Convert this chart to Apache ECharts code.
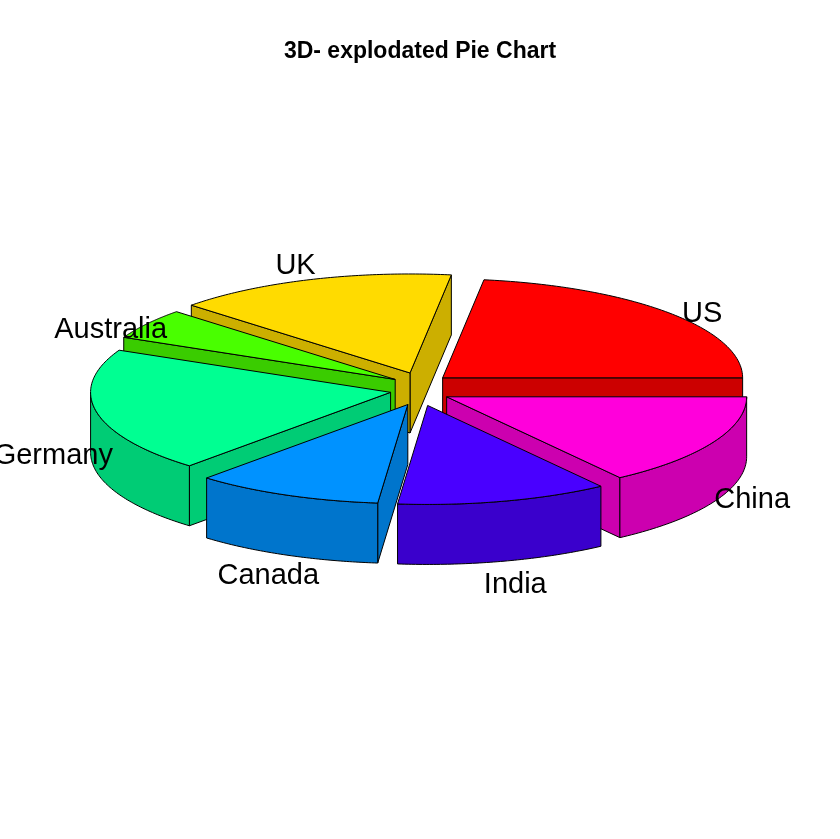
<!DOCTYPE html>
<html><head><meta charset="utf-8">
<style>html,body{margin:0;padding:0;background:#fff}#c{width:840px;height:839px}</style>
<script src="https://cdn.jsdelivr.net/npm/echarts@6/dist/echarts.min.js"></script>
</head><body><div id="c"></div>
<script>
// Data, counter-clockwise from the 3 o'clock direction
var countries = ['US','UK','Australia','Germany','Canada','India','China'];
var shares = [22.8,15.2,5.0,20.3,10.1,11.4,15.2];
var topColors = ['#FF0000','#FFDB00','#49FF00','#00FF92','#0092FF','#4900FF','#FF00DB'];
var sideColors = ['#CC0000','#CCAF00','#3ACC00','#00CC75','#0075CC','#3A00CC','#CC00AF'];
var chartTitle = '3D- explodated Pie Chart';

// Projection of the pie
var CX=420, CY=389, RX=300, RY=99, H=60, EX=30, EY=17, LCX=420, LX=374, LY=167, LCY=423.5;
var FONT='"Liberation Sans", Arial, sans-serif';
var total = shares.reduce(function(a,b){return a+b;},0);
var rad = Math.PI/180;

function slice(i){
  var before = shares.slice(0,i).reduce(function(a,b){return a+b;},0);
  var a0 = before/total*360, a1 = (before+shares[i])/total*360;
  return {a0:a0,a1:a1,mid:(a0+a1)/2};
}
var order = countries.map(function(_,i){return i;}).sort(function(p,q){
  return Math.sin(slice(q).mid*rad)-Math.sin(slice(p).mid*rad);
});
var rank = {}; order.forEach(function(k,r){rank[k]=r;});

function renderItem(params, api){
  var i = api.value(0), s = slice(i), m = s.mid*rad;
  var ax = CX+EX*Math.cos(m), ay = CY-EY*Math.sin(m);
  function pt(deg,dy){return [ax+RX*Math.cos(deg*rad), ay-RY*Math.sin(deg*rad)+(dy||0)];}
  var kids=[], base=rank[i]*10;
  function poly(points,fill,z){
    kids.push({type:'polygon',z2:base+z,shape:{points:points},
      style:{fill:fill,stroke:'#000',lineWidth:1}});
  }
  function wall(deg,z){
    var p=pt(deg);
    poly([[ax,ay],p,[p[0],p[1]+H],[ax,ay+H]],sideColors[i],z);
  }
  if(Math.cos(s.a0*rad)>0) wall(s.a0,1);
  if(Math.cos(s.a1*rad)<0) wall(s.a1,1);
  // outer rim: only the part of the arc that faces the viewer
  var lo=Math.max(s.a0,180), hi=Math.min(s.a1,360);
  if(hi>lo){
    var up=[],down=[];
    for(var d=lo;d<=hi+1e-6;d+=(hi-lo)/60){up.push(pt(d));down.unshift(pt(d,H));}
    poly(up.concat(down),sideColors[i],2);
  }
  var top=[[ax,ay]];
  for(var k=0;k<=80;k++) top.push(pt(s.a0+(s.a1-s.a0)*k/80));
  poly(top,topColors[i],3);
  kids.push({type:'text',z2:1000,style:{
    text:countries[i],x:LCX+LX*Math.cos(m),y:LCY-LY*Math.sin(m),
    align:'center',verticalAlign:'middle',fill:'#000',font:'29px '+FONT}});
  return {type:'group',children:kids};
}

var chart = echarts.init(document.getElementById('c'),null,{renderer:'canvas'});
chart.setOption({
  animation:false,
  backgroundColor:'#fff',
  title:{text:chartTitle,left:'center',top:35,
    textStyle:{fontFamily:FONT,fontSize:23,fontWeight:'bold',color:'#000'}},
  series:[{type:'custom',coordinateSystem:'none',silent:true,clip:false,
    renderItem:renderItem,
    data:order.map(function(i){return [i,shares[i]];})}]
});
</script></body></html>
